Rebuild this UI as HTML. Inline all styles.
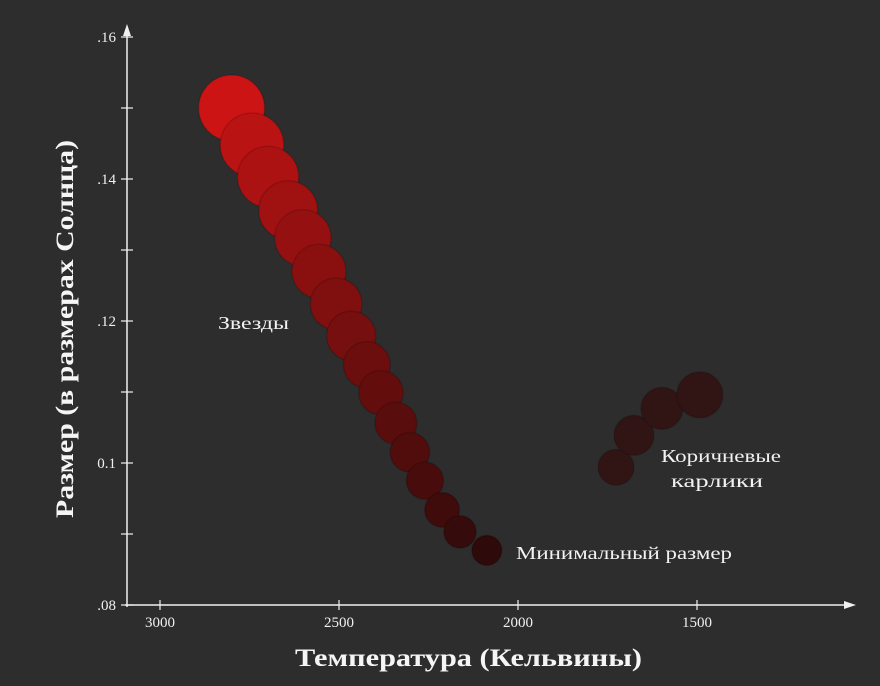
<!DOCTYPE html>
<html><head><meta charset="utf-8"><style>
html,body{margin:0;padding:0;background:#2d2d2d;}
svg{display:block;font-family:"Liberation Serif","DejaVu Serif",serif;}
</style></head><body>
<svg width="880" height="686" viewBox="0 0 880 686">
<rect width="880" height="686" fill="#2d2d2d"/>
<g id="axes"></g>
<g id="marks"></g>
<text x="218" y="329" fill="#f2f2f2" font-size="18" textLength="71" lengthAdjust="spacingAndGlyphs">Звезды</text>
<text x="661" y="462" fill="#f2f2f2" font-size="18" textLength="120" lengthAdjust="spacingAndGlyphs">Коричневые</text>
<text x="671" y="487" fill="#f2f2f2" font-size="18" textLength="92" lengthAdjust="spacingAndGlyphs">карлики</text>
<text x="516" y="559" fill="#f2f2f2" font-size="18" textLength="216" lengthAdjust="spacingAndGlyphs">Минимальный размер</text>
<text x="295" y="666" fill="#f5f5f5" font-size="25" font-weight="bold" textLength="347" lengthAdjust="spacingAndGlyphs">Температура (Кельвины)</text>
<text transform="translate(73,518) rotate(-90)" fill="#f5f5f5" font-size="25" font-weight="bold" textLength="378" lengthAdjust="spacingAndGlyphs">Размер (в размерах Солнца)</text>
</svg>
<script>
const starTemps=[2800,2743,2698,2642,2601,2556,2508,2466,2422,2383,2341,2302,2260,2212,2162,2087];
const starSizes=[0.150,0.1448,0.1403,0.1356,0.1317,0.1270,0.1224,0.1179,0.1138,0.1099,0.1056,0.1015,0.0975,0.0934,0.0903,0.0877];
const dwarfTemps=[1726,1676,1598,1492];
const dwarfSizes=[0.0994,0.1039,0.1077,0.1096];
const xTicks=[3000,2500,2000,1500];
const xTickLabels=["3000","2500","2000","1500"];
const yTicks=[0.08,0.10,0.12,0.14,0.16];
const yTickLabels=[".08","0.1",".12",".14",".16"];
const yMinor=[0.09,0.11,0.13,0.15];
const NS="http://www.w3.org/2000/svg";
function X(t){return 160+(3000-t)*179/500;}
function Y(s){return 605-(s-0.08)*7100;}
function mk(tag,attrs,parent){const e=document.createElementNS(NS,tag);for(const k in attrs)e.setAttribute(k,attrs[k]);parent.appendChild(e);return e;}
const ax=document.getElementById('axes');
let l=mk('line',{x1:127,y1:607,x2:127,y2:30,stroke:'#f0f0f0','stroke-width':1.5},ax);


let a=mk('polygon',{points:'127,24 123,36 131,36',fill:'#f0f0f0'},ax);


l=mk('line',{x1:125,y1:605,x2:846,y2:605,stroke:'#f0f0f0','stroke-width':1.5},ax);


a=mk('polygon',{points:'856,605 844,601 844,609',fill:'#f0f0f0'},ax);


xTicks.forEach((t,i)=>{
  const tk=mk('line',{x1:X(t),y1:600,x2:X(t),y2:610,stroke:'#f0f0f0','stroke-width':1.2},ax);
  
  
  const tx=mk('text',{x:X(t),y:627,fill:'#f0f0f0','font-size':15,'text-anchor':'middle'},ax);
  tx.textContent=xTickLabels[i];
  
  
});
yTicks.forEach((s,i)=>{
  const tk=mk('line',{x1:121,y1:Y(s),x2:133,y2:Y(s),stroke:'#f0f0f0','stroke-width':1.2},ax);
  
  
  const tx=mk('text',{x:116,y:Y(s)+5,fill:'#f0f0f0','font-size':15,'text-anchor':'end'},ax);
  tx.textContent=yTickLabels[i];
  
  
});
yMinor.forEach(s=>{
  const tk=mk('line',{x1:121,y1:Y(s),x2:133,y2:Y(s),stroke:'#f0f0f0','stroke-width':1.2},ax);
  
  
});
const mg=document.getElementById('marks');
const n=starTemps.length;
starTemps.forEach((t,i)=>{
  const f=Math.pow(i/(n-1),0.8);
  const r=Math.round(204-(204-46)*f),g=Math.round(20-(20-10)*f),b=Math.round(20-(20-10)*f);
  const rad=33-18*(i/(n-1));
  const c=mk('circle',{cx:X(t),cy:Y(starSizes[i]),r:rad,fill:`rgb(${r},${g},${b})`,stroke:`rgba(0,0,0,0.15)`,'stroke-width':1.5},mg);
  
  
});
const dr=[18,20,21,23];
dwarfTemps.forEach((t,i)=>{
  const c=mk('circle',{cx:X(t),cy:Y(dwarfSizes[i]),r:dr[i],fill:'#311414',stroke:'rgba(0,0,0,0.12)','stroke-width':1.5},mg);
  
  
});
</script>
</body></html>
